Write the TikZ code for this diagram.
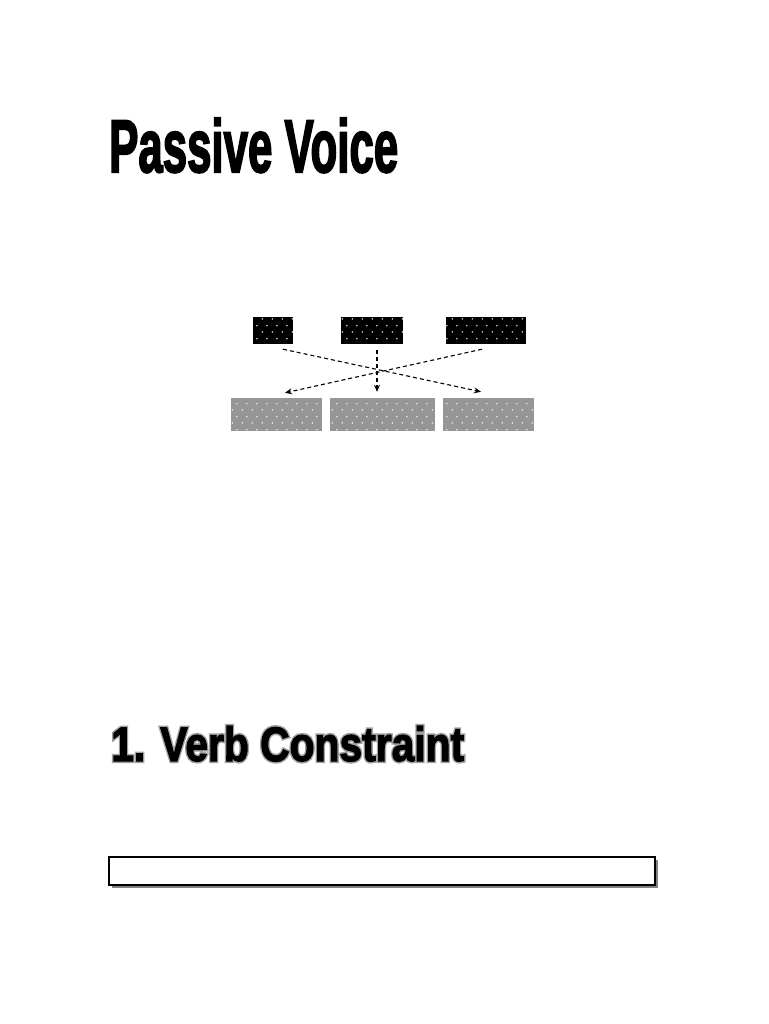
\documentclass[tikz,border=0pt]{standalone}
\usepackage{fontspec}
\setmainfont{Liberation Sans}
\newfontfamily\titlefont[FakeBold=3]{Liberation Sans Bold}
\newfontfamily\headfont[FakeBold=2.5]{Liberation Sans Bold}
\newfontfamily\halofont[FakeBold=9]{Liberation Sans Bold}
\usetikzlibrary{patterns,arrows.meta,calc}
\definecolor{boxgray}{RGB}{150,150,150}
\definecolor{shadowgray}{RGB}{128,128,128}
\definecolor{halogray}{RGB}{160,160,160}
\pgfdeclarepatternformonly{stagdots}{\pgfpointorigin}{\pgfpoint{10pt}{13pt}}{\pgfpoint{10pt}{13pt}}{%
  \pgfpathcircle{\pgfpoint{2.5pt}{3.25pt}}{0.85pt}%
  \pgfpathcircle{\pgfpoint{7.5pt}{9.75pt}}{0.85pt}%
  \pgfusepath{fill}}
\tikzset{
  darkbox/.style={rectangle, draw=none, inner sep=0pt, minimum height=27pt,
    preaction={fill=black}, pattern=stagdots, pattern color=white},
  graybox/.style={rectangle, draw=none, inner sep=0pt, minimum width=91pt, minimum height=33pt,
    preaction={fill=boxgray}, pattern=stagdots, pattern color=white},
  link/.style={dashed, dash pattern=on 4pt off 3pt, line width=1.1pt,
    -{Stealth[length=7pt,width=6pt]}},
  titletext/.style={anchor=base west, inner sep=0pt}
}
\begin{document}
\begin{tikzpicture}[x=1pt,y=-1pt]
\useasboundingbox[fill=white] (0,0) rectangle (768,1024);
% title
\node[titletext, font=\titlefont] (title) at (109,172) {\resizebox{289pt}{54pt}{Passive Voice}};
% top boxes
\node[darkbox, minimum width=40pt] (b1) at (273,330) {};
\node[darkbox, minimum width=62pt] (b2) at (372,330) {};
\node[darkbox, minimum width=80pt] (b3) at (486,330) {};
% bottom boxes
\node[graybox] (g1) at (276.5,414.5) {};
\node[graybox, minimum width=105pt] (g2) at (382.5,414.5) {};
\node[graybox] (g3) at (488.5,414.5) {};
% connectors
\draw[link] ([shift={(10,5.5)}]b1.south) -- ([shift={(-7.5,-6)}]g3.north);
\draw[link] ([shift={(5,6.5)}]b2.south) -- ([shift={(-5.5,-6)}]g2.north);
\draw[link] ([shift={(-4,5.5)}]b3.south) -- ([shift={(8.5,-5)}]g1.north);
% section heading: gray halo copy behind, black text on top
\node[titletext, font=\halofont, text=halogray] (halo) at (111,761)
  {\resizebox{353pt}{35pt}{1. Verb Constraint}};
\node[titletext, font=\headfont] (heading) at (111,761)
  {\resizebox{353pt}{35pt}{1. Verb Constraint}};
% framed empty box with shadow
\fill[shadowgray] (112,860) rectangle (658,888);
\node[rectangle, draw=black, fill=white, line width=1.3pt, inner sep=0pt,
  minimum width=546pt, minimum height=28pt] (frame) at (382,871) {};
\end{tikzpicture}
\end{document}
